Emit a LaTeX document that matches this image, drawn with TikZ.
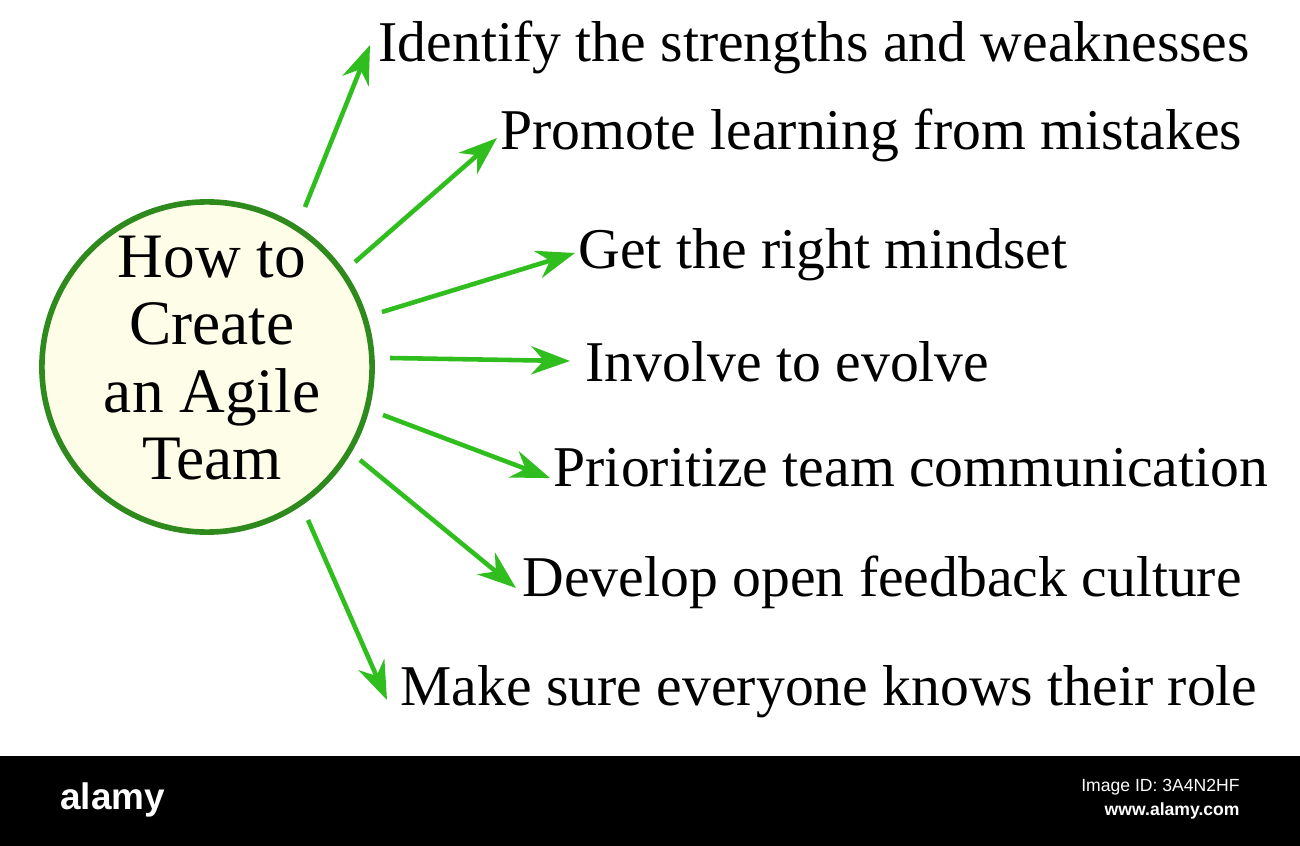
\documentclass[tikz,border=0pt]{standalone}
\usepackage{fontspec}
\setmainfont{Liberation Serif}
\newfontfamily\lsans{Liberation Sans}
\usetikzlibrary{arrows.meta}
\definecolor{ringgreen}{HTML}{2E8A1C}
\definecolor{arrgreen}{HTML}{30BE1E}
\definecolor{cream}{HTML}{FDFDE8}
\tikzset{
  px/.style={x=0.01cm,y=-0.01cm},
  item/.style={anchor=west,inner sep=0pt,font=\fontsize{16.4}{18}\selectfont},
  arr/.style={draw=arrgreen,line width=1.3pt,-{Stealth[length=11pt,width=8pt]}}
}
\begin{document}
\begin{tikzpicture}[px]
\useasboundingbox (0,0) rectangle (1300,846);
\fill[white] (0,0) rectangle (1300,756);
\fill[black] (0,756) rectangle (1300,846);
\node[circle,draw=ringgreen,line width=1.6pt,fill=cream,inner sep=0pt,minimum size=3.3cm] (c) at (207,367) {};
\node[align=center,font=\fontsize{18}{19.2}\selectfont] (ct) at (212,358) {How to\\Create\\an Agile\\Team};
\foreach \i/\sx/\sy/\ex/\ey/\tx/\ty/\t in {
 1/305/207/370/45/378/47/{Identify the strengths and weaknesses},
 2/355/262/497/138/500/135/{Promote learning from mistakes},
 3/382/312/575/253/578/255/{Get the right mindset},
 4/390/358/570/361/585/362/{Involve to evolve},
 5/383/415/550/478/553/468/{Prioritize team communication},
 6/360/460/516/588/522/582/{Develop open feedback culture},
 7/308/520/387/700/400/692/{Make sure everyone knows their role}}{
  \coordinate (s\i) at (\sx,\sy);
  \coordinate (e\i) at (\ex,\ey);
  \node[item] (t\i) at (\tx,\ty) {\t};
  \draw[arr] (s\i) -- (e\i);
}
\node[anchor=west,text=white,font=\lsans\bfseries\fontsize{10.5}{11}\selectfont] (logo) at (48,800) {alamy};
\node[anchor=east,text=white,font=\lsans\fontsize{5}{6}\selectfont] (iid) at (1252,787) {Image ID: 3A4N2HF};
\node[anchor=east,text=white,font=\lsans\bfseries\fontsize{5}{6}\selectfont] (url) at (1252,811) {www.alamy.com};
\end{tikzpicture}
\end{document}
